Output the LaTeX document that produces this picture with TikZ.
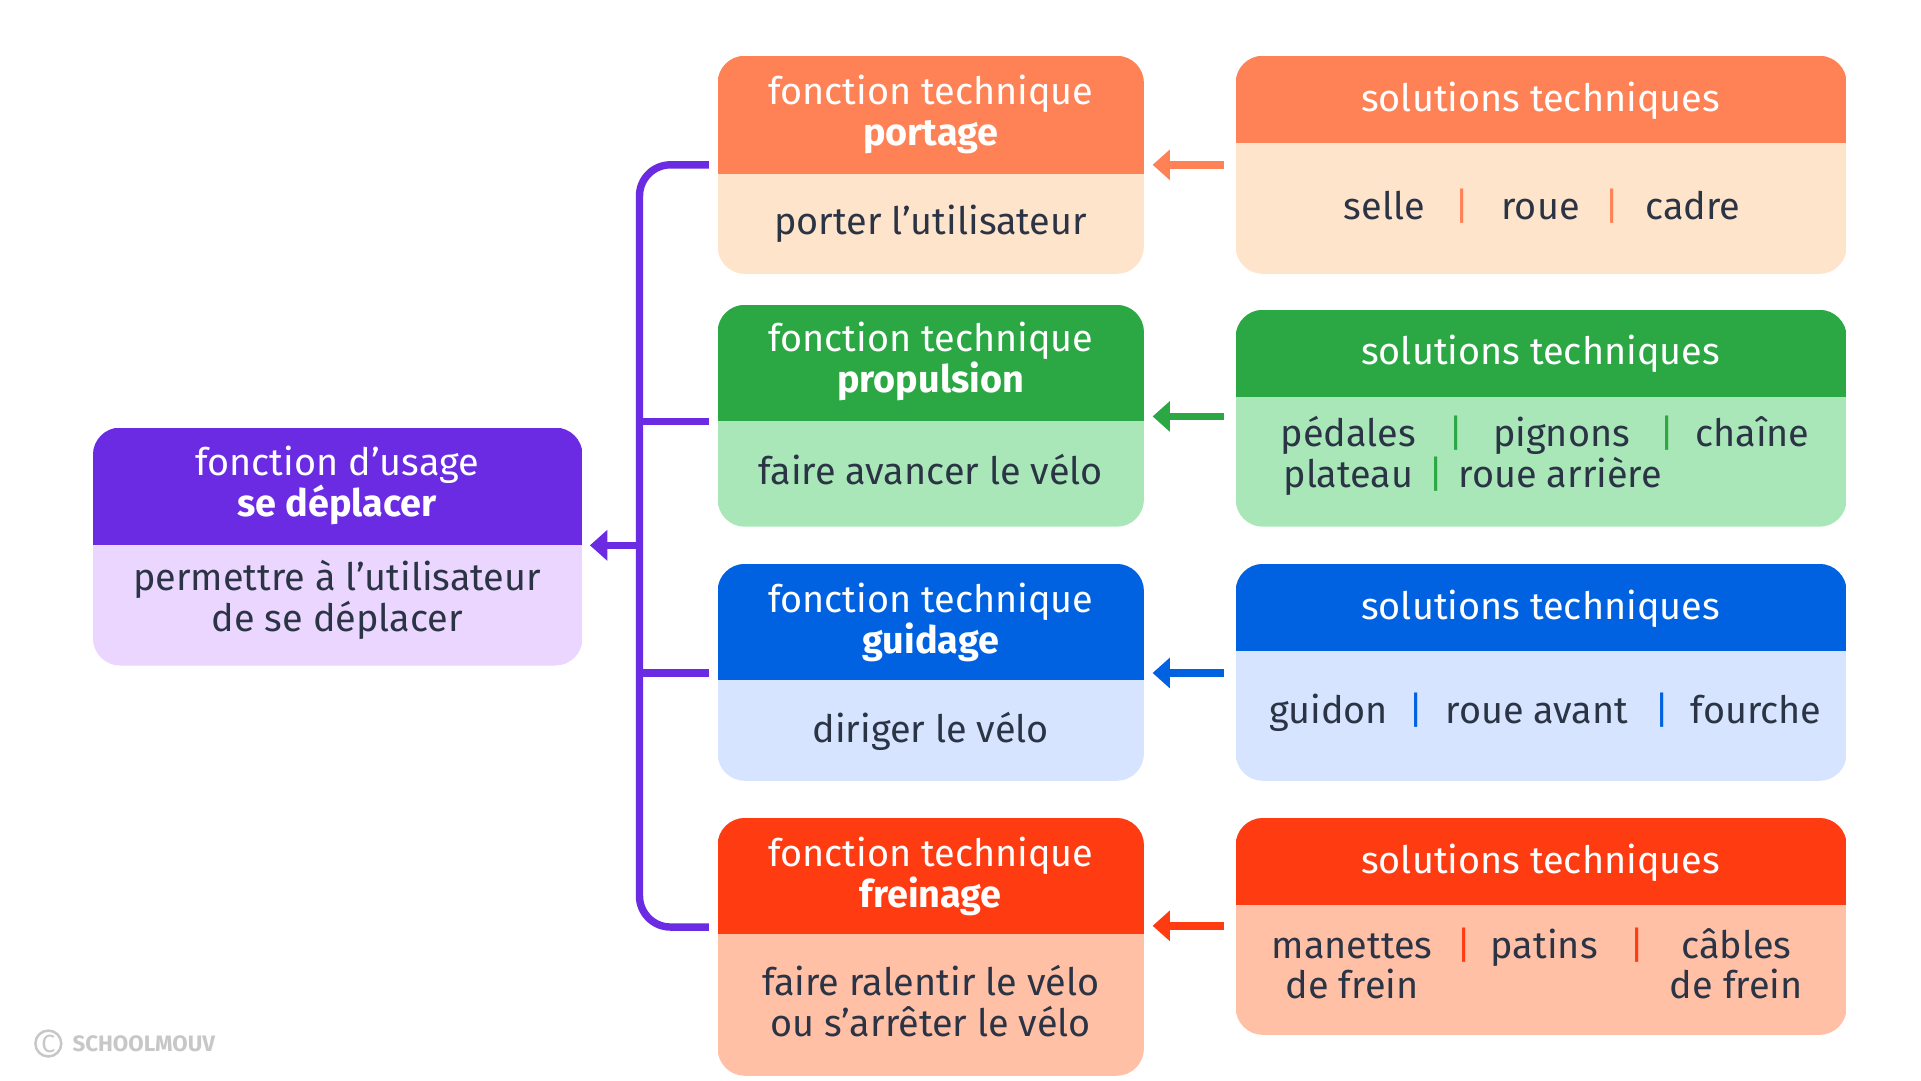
\documentclass[tikz,border=0pt]{standalone}
\usepackage{fontspec}
\setmainfont{Fira Sans}
\usetikzlibrary{arrows.meta}
\definecolor{txt}{HTML}{2B3445}
\definecolor{oD}{HTML}{FF8256}\definecolor{oL}{HTML}{FFE4CC}
\definecolor{gD}{HTML}{2BA844}\definecolor{gL}{HTML}{A9E7B9}
\definecolor{bD}{HTML}{0062E0}\definecolor{bL}{HTML}{D6E4FF}
\definecolor{rD}{HTML}{FF3B12}\definecolor{rL}{HTML}{FFC0A6}
\definecolor{pD}{HTML}{6A2BE2}\definecolor{pL}{HTML}{EBD6FF}
\tikzset{
 fnt/.style={font=\fontsize{30.5}{33}\selectfont,inner sep=0pt},
 hd/.style={fnt,text=white,align=center},
 bd/.style={fnt,text=txt,align=center},
 bl/.style={bd,anchor=base},
 bar/.style={fnt,anchor=base},
 con/.style={line width=6pt},
 arr/.style={line width=6pt,-{Triangle[length=14pt,width=24pt]}}
}
\newcommand{\mybox}[7]{% x1 y1 x2 y2 split dark light
 \begin{scope}
 \clip[rounded corners=22pt] (#1,#2) rectangle (#3,#4);
 \fill[#7] (#1,#2) rectangle (#3,#4);
 \fill[#6] (#1,#2) rectangle (#3,#5);
 \end{scope}}
\begin{document}
\begin{tikzpicture}[x=1pt,y=-1pt]
\useasboundingbox[fill=white] (0,0) rectangle (1550,872);
% usage
\mybox{75}{345}{470}{537}{440}{pD}{pL}
\node[hd] (u1) at (272,392) {fonction d’usage\\\textbf{se déplacer}};
\node[bd] (u2) at (272,484) {permettre à l’utilisateur\\de se déplacer};
% column 2
\mybox{579}{45}{923}{221}{140}{oD}{oL}
\node[hd] (f1) at (751,92) {fonction technique\\\textbf{portage}};
\node[bl] (b1) at (751,189) {porter l’utilisateur};
\mybox{579}{246}{923}{425}{340}{gD}{gL}
\node[hd] (f2) at (751,292) {fonction technique\\\textbf{propulsion}};
\node[bl] (b2) at (751,391) {faire avancer le vélo};
\mybox{579}{455}{923}{630}{549}{bD}{bL}
\node[hd] (f3) at (751,502) {fonction technique\\\textbf{guidage}};
\node[bl] (b3) at (751,599) {diriger le vélo};
\mybox{579}{660}{923}{868}{754}{rD}{rL}
\node[hd] (f4) at (751,707) {fonction technique\\\textbf{freinage}};
\node[bd] (b4) at (751,808) {faire ralentir le vélo\\ou s’arrêter le vélo};
% column 3
\mybox{997}{45}{1490}{221}{115}{oD}{oL}
\node[hd,anchor=base] (s1) at (1243,90) {solutions techniques};
\node[bl] at (1117,177) {selle};\node[bar,oD] at (1180,177) {|};
\node[bl] at (1243,177) {roue};\node[bar,oD] at (1301,177) {|};
\node[bl] at (1366,177) {cadre};
\mybox{997}{250}{1490}{425}{320}{gD}{gL}
\node[hd,anchor=base] (s2) at (1243,294) {solutions techniques};
\node[bl] at (1088,360) {pédales};\node[bar,gD] at (1175,360) {|};
\node[bl] at (1260,360) {pignons};\node[bar,gD] at (1345,360) {|};
\node[bl] at (1414,360) {chaîne};
\node[bl] at (1088,393) {plateau};\node[bar,gD] at (1159,393) {|};
\node[bl] at (1259,393) {roue arrière};
\mybox{997}{455}{1490}{630}{525}{bD}{bL}
\node[hd,anchor=base] (s3) at (1243,500) {solutions techniques};
\node[bl] at (1072,584) {guidon};\node[bar,bD] at (1143,584) {|};
\node[bl] at (1240,584) {roue avant};\node[bar,bD] at (1341,584) {|};
\node[bl] at (1417,584) {fourche};
\mybox{997}{660}{1490}{835}{730}{rD}{rL}
\node[hd,anchor=base] (s4) at (1243,705) {solutions techniques};
\node[bl] at (1091,773) {manettes};\node[bl] at (1091,806) {de frein};
\node[bar,rD] at (1181,773) {|};
\node[bl] at (1246,773) {patins};\node[bar,rD] at (1321,773) {|};
\node[bl] at (1401,773) {câbles};\node[bl] at (1401,806) {de frein};
% arrows
\coordinate (a1) at (988,133);\coordinate (t1) at (930,133);
\coordinate (a2) at (988,336);\coordinate (t2) at (930,336);
\coordinate (a3) at (988,543);\coordinate (t3) at (930,543);
\coordinate (a4) at (988,747);\coordinate (t4) at (930,747);
\draw[arr,oD] (a1)--(t1);\draw[arr,gD] (a2)--(t2);
\draw[arr,bD] (a3)--(t3);\draw[arr,rD] (a4)--(t4);
% bracket
\coordinate (k1) at (572,133);\coordinate (k2) at (572,340);
\coordinate (k3) at (572,543);\coordinate (k4) at (572,748);
\coordinate (km) at (516,440);\coordinate (kt) at (476,440);
\draw[con,pD,rounded corners=25pt] (k1)--(516,133)--(516,748)--(k4);
\draw[con,pD] (k2)--(516,340);\draw[con,pD] (k3)--(516,543);
\draw[arr,pD] (km)--(kt);
\node[text=black!22,circle,draw=black!22,line width=2pt,inner sep=1pt,font=\fontsize{20}{20}\selectfont] (wc) at (39,842) {C};
\node[text=black!22,anchor=west,font=\bfseries\fontsize{18}{20}\selectfont] (wm) at (55,842) {SCHOOLMOUV};
\end{tikzpicture}
\end{document}
